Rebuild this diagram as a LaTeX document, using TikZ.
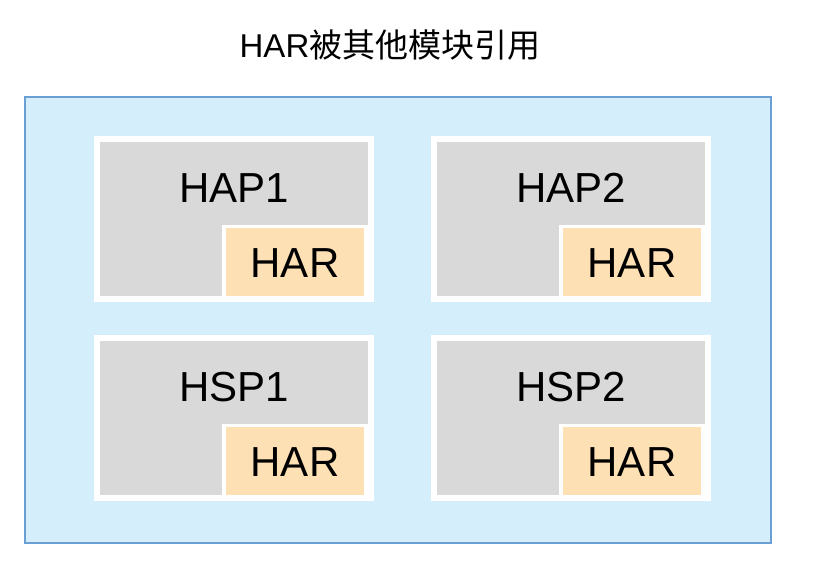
\documentclass[tikz,border=0pt]{standalone}
\usepackage{fontspec}
\setmainfont{Liberation Sans}
\newfontfamily\cjk{Noto Sans CJK SC}
\definecolor{bluefill}{HTML}{D5EEFC}
\definecolor{blueline}{HTML}{6A9FD6}
\definecolor{grayfill}{HTML}{D9D9D9}
\definecolor{harfill}{HTML}{FEE0B5}
\begin{document}
\begin{tikzpicture}[x=1pt,y=-1pt,
  frame/.style={fill=white,draw=none},
  lbl/.style={font=\fontsize{42}{44}\selectfont,text=black,inner sep=0}]
\useasboundingbox (0,0) rectangle (814,572);
\fill[white] (0,0) rectangle (814,572);
\draw[blueline,line width=2.2pt,fill=bluefill] (25,97) rectangle (771,543);
\node[lbl,font=\fontsize{33}{36}\selectfont] (title) at (390,45) {HAR{\cjk 被其他模块引用}};
\foreach \x/\y/\n/\t in {0/0/a/HAP1,337/0/b/HAP2,0/199/c/HSP1,337/199/d/HSP2}{
  \begin{scope}[shift={(\x,\y)}]
  \fill[white] (94,136) rectangle (374,302);
  \fill[grayfill] (100,142) rectangle (368,296);
  \fill[white] (222,225) rectangle (368,296);
  \fill[harfill] (226,228) rectangle (364,296);
  \node[lbl] (\n) at (234,188) {\t};
  \node[lbl] (\n har) at (295,263) {HAR};
  \end{scope}}
\end{tikzpicture}
\end{document}
